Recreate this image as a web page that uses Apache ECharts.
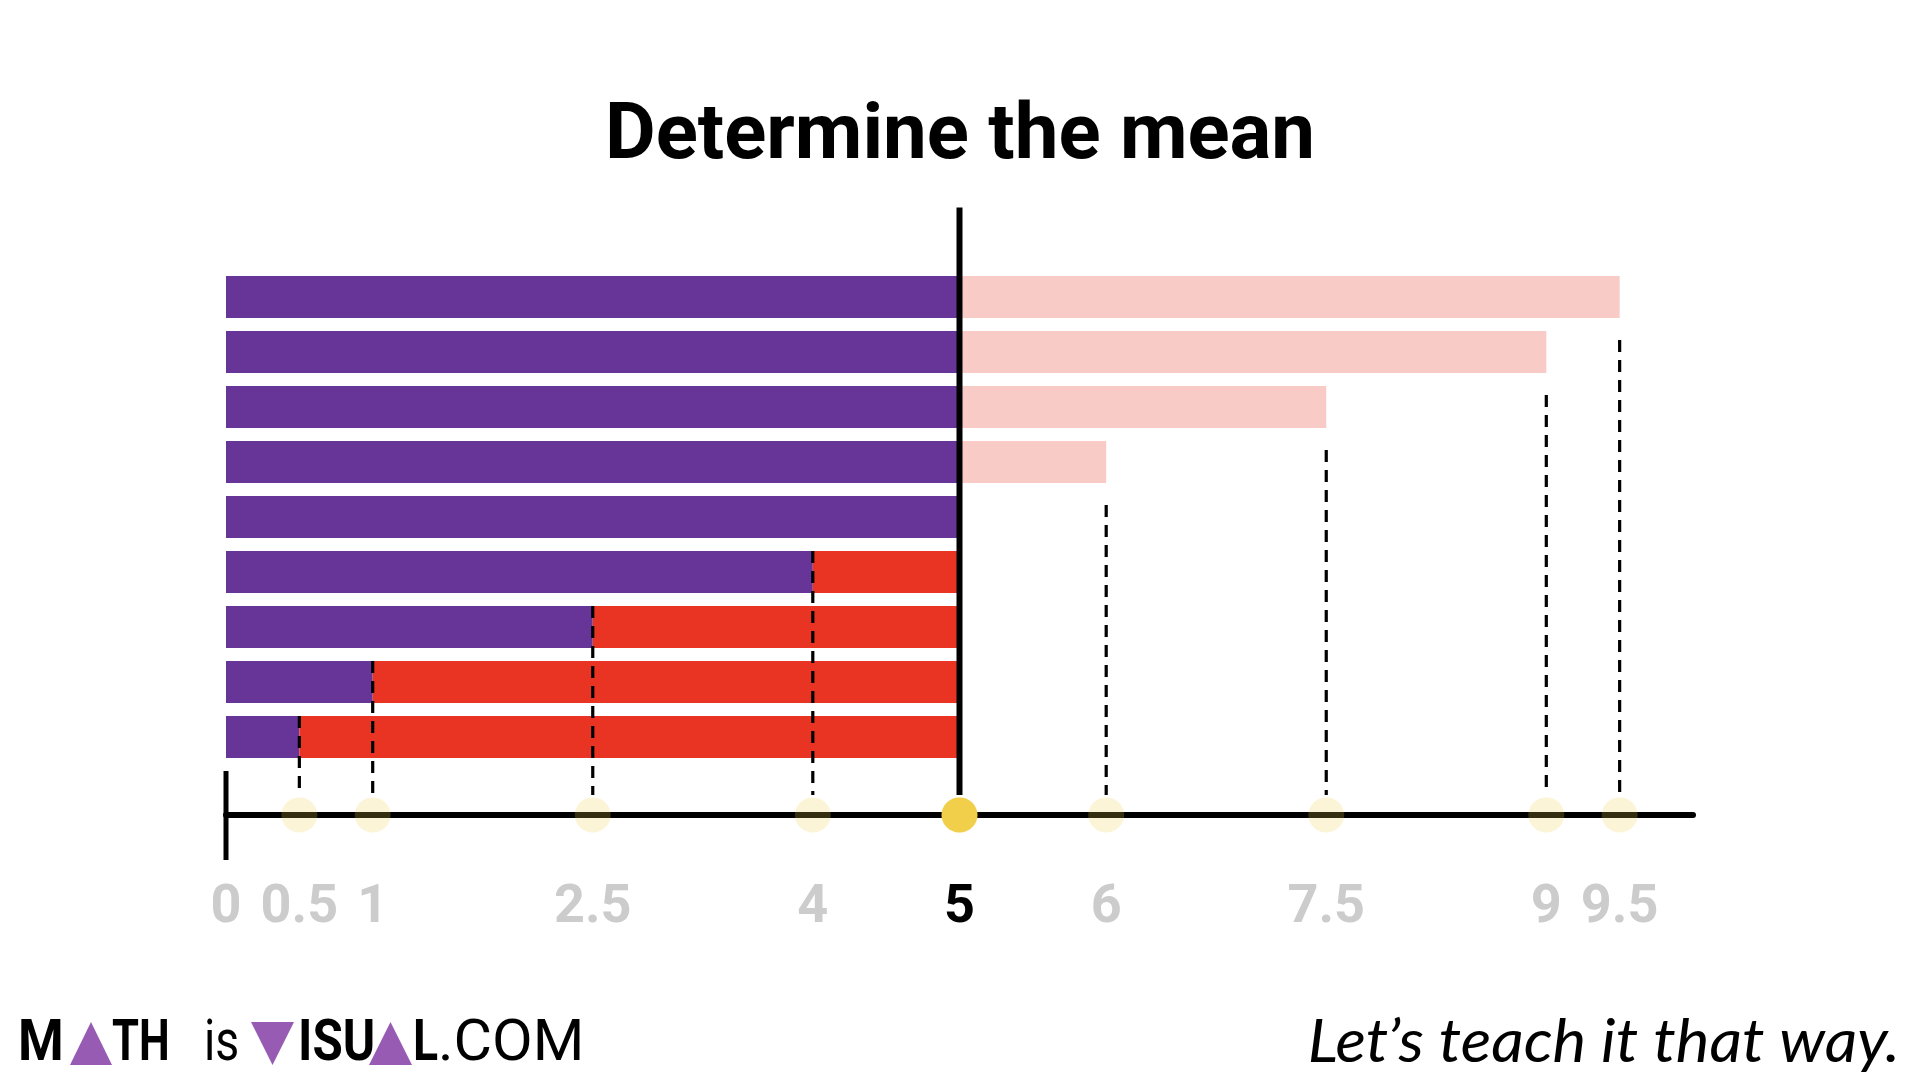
<!DOCTYPE html>
<html><head><meta charset="utf-8">
<script src="https://cdn.jsdelivr.net/npm/echarts@6/dist/echarts.min.js"></script>
<style>html,body{margin:0;padding:0;background:#fff}#c{width:1920px;height:1080px}</style>
</head><body><div id="c"></div>
<script>
// ---- data ----
const categories = ['1', '2', '3', '4', '5', '6', '7', '8', '9'];
const dataValues = [9.5, 9, 7.5, 6, 5, 4, 2.5, 1, 0.5];
const purpleBelow = [5, 5, 5, 5, 5, 4, 2.5, 1, 0.5];
const redGap = [0, 0, 0, 0, 0, 1, 2.5, 4, 4.5];
const pinkAbove = [4.5, 4, 2.5, 1, 0, 0, 0, 0, 0];
const meanValue = 5;
const tickValues = [0, 0.5, 1, 2.5, 4, 5, 6, 7.5, 9, 9.5];
const titleText = 'Determine the mean';
const taglineText = 'Let\u2019s teach it that way.';

// ---- layout / style ----
const BAR_WIDTH = 42;
const LINE_OFFSET = 50.5;
const PURPLE = '#673597', RED = '#e93424', PINK = '#f8cbc7', GOLD = '#f2cf4b', LOGO = '#975bb3';

const chart = echarts.init(document.getElementById('c'), null, {renderer: 'canvas'});

function numberLineY(cs) { return cs.y + cs.height + LINE_OFFSET; }

const option = {
  animation: false,
  backgroundColor: '#ffffff',
  title: {
    text: titleText, left: 'center', top: 94,
    textStyle: {fontSize: 78, fontWeight: 'bold', fontFamily: 'Roboto', color: '#000'}
  },
  grid: {left: 226, right: 227, top: 269.5, height: 495, containLabel: false},
  xAxis: {
    type: 'value', min: 0, max: 10, position: 'bottom', offset: LINE_OFFSET,
    axisLine: {show: true, lineStyle: {color: '#000', width: 6}},
    axisTick: {show: false}, splitLine: {show: false},
    axisLabel: {
      customValues: tickValues, margin: 66,
      formatter: v => (v === meanValue ? '{k|' + v + '}' : '{g|' + v + '}'),
      rich: {
        k: {color: '#000', fontSize: 54, fontWeight: 'bold', fontFamily: 'Roboto', lineHeight: 54},
        g: {color: '#cccccc', fontSize: 54, fontWeight: 'bold', fontFamily: 'Roboto', lineHeight: 54}
      }
    }
  },
  yAxis: {
    type: 'category', data: categories, inverse: true, show: false,
    axisLine: {show: false}, axisTick: {show: false}, splitLine: {show: false}
  },
  series: [
    {type: 'bar', stack: 'total', data: purpleBelow, barWidth: BAR_WIDTH, itemStyle: {color: PURPLE}, silent: true, z: 2},
    {type: 'bar', stack: 'total', data: redGap, barWidth: BAR_WIDTH, itemStyle: {color: RED}, silent: true, z: 2},
    {type: 'bar', stack: 'total', data: pinkAbove, barWidth: BAR_WIDTH, itemStyle: {color: PINK}, silent: true, z: 2},
    { // dashed drop lines
      type: 'custom', z: 4, silent: true, clip: false,
      data: dataValues.map((v, i) => [v, i]),
      encode: {x: 0, y: 1},
      renderItem: (params, api) => {
        const v = api.value(0), idx = api.value(1);
        const p = api.coord([v, idx]);
        const ly = numberLineY(params.coordSys);
        let y0;
        if (v < meanValue) y0 = p[1] - BAR_WIDTH / 2;
        else if (v > meanValue) y0 = p[1] + BAR_WIDTH / 2 + 22;
        else return null;
        return {type: 'line', shape: {x1: p[0], y1: y0, x2: p[0], y2: ly - 20},
          style: {stroke: '#000', lineWidth: 3.2, lineDash: [12, 8]}};
      }
    },
    { // mean line
      type: 'custom', z: 5, silent: true, clip: false,
      data: [[meanValue, 0]], encode: {x: 0, y: 1},
      renderItem: (params, api) => {
        const p = api.coord([api.value(0), 0]);
        const cs = params.coordSys;
        return {type: 'line', shape: {x1: p[0], y1: cs.y - 62, x2: p[0], y2: numberLineY(cs) - 20},
          style: {stroke: '#000', lineWidth: 6}};
      }
    },
    { // zero tick
      type: 'custom', z: 5, silent: true, clip: false,
      data: [[0, 0]], encode: {x: 0, y: 1},
      renderItem: (params, api) => {
        const p = api.coord([api.value(0), 0]);
        const ly = numberLineY(params.coordSys);
        return {type: 'line', shape: {x1: p[0], y1: ly - 44, x2: p[0], y2: ly + 45},
          style: {stroke: '#000', lineWidth: 5}};
      }
    },
    { // points on number line
      type: 'custom', z: 6, silent: true, clip: false,
      data: dataValues.map(v => [v, 0]).concat([[meanValue, 1]]),
      encode: {x: 0},
      renderItem: (params, api) => {
        const p = api.coord([api.value(0), 0]);
        const ly = numberLineY(params.coordSys);
        const isMean = api.value(1) === 1;
        return {type: 'ellipse', shape: {cx: p[0], cy: ly, rx: 18, ry: 17.5},
          style: {fill: GOLD, opacity: isMean ? 1 : 0.22}};
      }
    }
  ],
  graphic: [
    {type: 'text', x: 18, y: 1045, scaleX: 0.9, style: {text: 'M', fill: '#000', font: 'bold 58px Roboto', verticalAlign: 'middle'}},
    {type: 'polygon', shape: {points: [[70, 1065], [91, 1022], [112, 1065]]}, style: {fill: LOGO}},
    {type: 'text', x: 112, y: 1045, scaleX: 0.75, style: {text: 'TH', fill: '#000', font: 'bold 58px Roboto', verticalAlign: 'middle'}},
    {type: 'text', x: 204, y: 1045, scaleX: 0.8, style: {text: 'is', fill: '#000', font: 'normal 58px Roboto', verticalAlign: 'middle'}},
    {type: 'polygon', shape: {points: [[251, 1022], [294, 1022], [272.5, 1065]]}, style: {fill: LOGO}},
    {type: 'text', x: 298, y: 1045, scaleX: 0.85, style: {text: 'ISU', fill: '#000', font: 'bold 58px Roboto', verticalAlign: 'middle'}},
    {type: 'polygon', shape: {points: [[369, 1065], [390.5, 1022], [412, 1065]]}, style: {fill: LOGO}},
    {type: 'text', x: 413, y: 1045, scaleX: 0.8, style: {text: 'L', fill: '#000', font: 'bold 58px Roboto', verticalAlign: 'middle'}},
    {type: 'text', x: 438, y: 1045, scaleX: 1.02, style: {text: '.COM', fill: '#000', font: 'normal 58px Roboto', verticalAlign: 'middle'}},
    {type: 'text', x: 1900, y: 1043, scaleX: 1.06, style: {text: taglineText, fill: '#000', font: 'italic 60px Lato', align: 'right', verticalAlign: 'middle'}}
  ]
};
chart.setOption(option);
</script></body></html>
